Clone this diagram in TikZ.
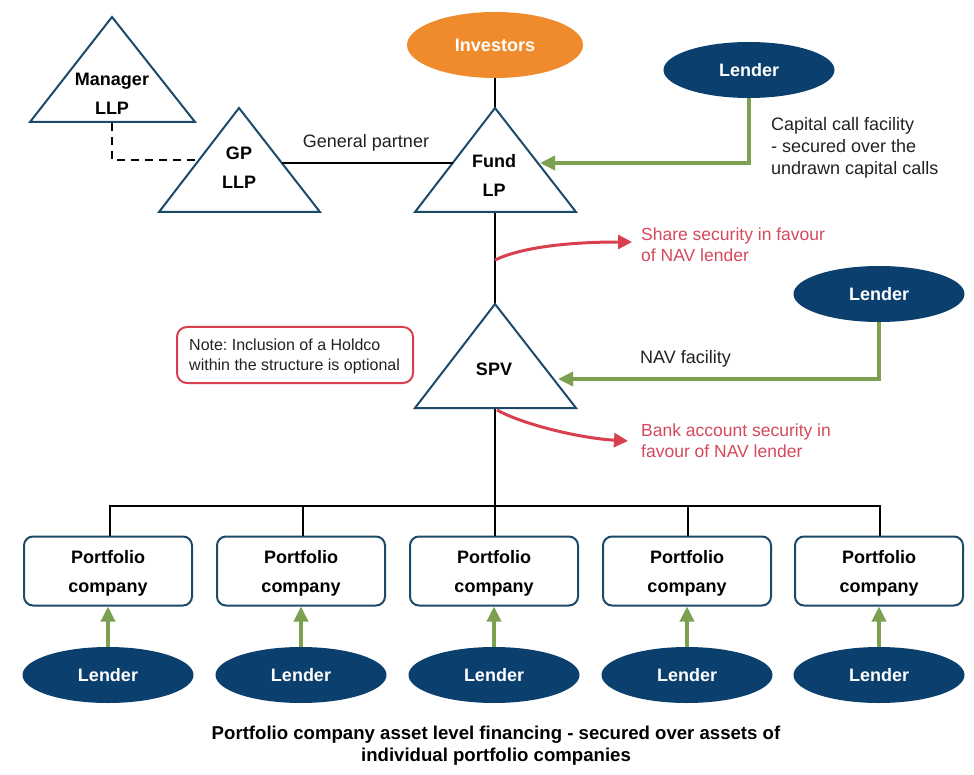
\documentclass[tikz,border=0pt]{standalone}
\usepackage{fontspec}
\setmainfont{Liberation Sans}
\usetikzlibrary{arrows.meta,shapes.geometric}
\definecolor{navy}{HTML}{0B3F6E}
\definecolor{triedge}{HTML}{1E4A6A}
\definecolor{orng}{HTML}{F08B2D}
\definecolor{grn}{HTML}{7BA150}
\definecolor{redc}{HTML}{D9404F}
\definecolor{redt}{HTML}{D44A5C}
\definecolor{txt}{HTML}{222222}
\frenchspacing
\begin{document}
\begin{tikzpicture}[x=1pt,y=-1pt,
  tri/.style={draw=triedge,line width=2pt,line join=miter,fill=white},
  trilab/.style={font=\bfseries\fontsize{18}{29}\selectfont,align=center,inner sep=0},
  lender/.style={ellipse,fill=navy,text=white,font=\bfseries\fontsize{18}{22}\selectfont,minimum width=171pt,minimum height=56pt,inner sep=0},
  pbox/.style={draw=triedge,line width=2pt,rounded corners=9pt,minimum width=168pt,minimum height=69pt,align=center,font=\bfseries\fontsize{18}{29}\selectfont,inner sep=0,text depth=0pt},
  plain/.style={font=\fontsize{18}{22}\selectfont,text=txt,align=left,inner sep=0},
  redlab/.style={font=\fontsize{17.5}{21}\selectfont,text=redt,align=left,inner sep=0},
  link/.style={draw=black,line width=2.1pt},
  grarrow/.style={draw=grn,line width=3.4pt,-{Triangle[length=15pt,width=14pt]}},
  redarrow/.style={draw=redc,line width=3pt,-{Triangle[length=14pt,width=14pt]}},
]
\useasboundingbox (0,0) rectangle (974,775);
\fill[white] (0,0) rectangle (974,775);

% ---- investors
\node[ellipse,fill=orng,text=white,font=\bfseries\fontsize{18}{22}\selectfont,minimum width=176pt,minimum height=66pt,inner sep=0] (inv) at (495,45) {Investors};

% ---- triangles (vertices as coordinates)
\coordinate (manA) at (112,17); \coordinate (manL) at (30,122); \coordinate (manR) at (195,122);
\coordinate (gpA) at (239,108); \coordinate (gpL) at (159,212); \coordinate (gpR) at (320,212);
\coordinate (fundA) at (495,108); \coordinate (fundL) at (415,212); \coordinate (fundR) at (576,212);
\coordinate (spvA) at (495,304); \coordinate (spvL) at (415,408); \coordinate (spvR) at (576,408);

% connectors behind triangles
\coordinate (fundB) at (495,212);
\coordinate (spvB) at (495,408);
\coordinate (bus) at (495,506);
\draw[link] (inv.south) -- (fundA);
\draw[link] (fundB) -- (spvA);
\draw[link] (spvB) -- (bus);

\draw[tri] (manA) -- (manL) -- (manR) -- cycle;
\draw[tri] (gpA) -- (gpL) -- (gpR) -- cycle;
\draw[tri] (fundA) -- (fundL) -- (fundR) -- cycle;
\draw[tri] (spvA) -- (spvL) -- (spvR) -- cycle;

\node[trilab] (man) at (112,94) {Manager\\LLP};
\node[trilab] (gp) at (239,168) {GP\\LLP};
\node[trilab] (fund) at (494,175) {Fund\\LP};
\node[trilab] (spv) at (494,369) {SPV};

% GP - Fund
\coordinate (gpE) at (282,163);
\coordinate (fundW) at (453,163);
\draw[link] (gpE) -- (fundW);
\node[plain] (gplab) at (366,143) {General partner};

% dashed Manager - GP
\coordinate (manB) at (112,123);
\coordinate (gpW) at (199,160);
\draw[black,line width=2.1pt,dash pattern=on 8pt off 6pt] (manB) -- (112,160) -- (gpW);

% ---- capital call lender
\node[lender] (lend1) at (749,70) {Lender};
\coordinate (fundE) at (540,163);
\draw[grarrow] (lend1.south) -- (749,163) -- (fundE);
\node[plain,anchor=north west] (cclab) at (771,117) {Capital call facility\\- secured over the\\undrawn capital calls};

% ---- share security
\coordinate (s1) at (495,260);
\coordinate (a1) at (632,242);
\draw[redarrow] (s1) .. controls (520,248) and (565,242) .. (a1);
\node[redlab,anchor=north west] (sharelab) at (641,228) {Share security in favour\\of NAV lender};

% ---- NAV lender
\node[lender] (lend2) at (879,294) {Lender};
\coordinate (spvE) at (558,379);
\draw[grarrow] (lend2.south) -- (879,379) -- (spvE);
\node[plain,anchor=west] (navlab) at (640,359) {NAV facility};

% ---- note
\node[draw=redc,line width=2pt,rounded corners=10pt,minimum width=236pt,minimum height=56pt,inner sep=0] (notebox) at (295,355) {};
\node[font=\fontsize{16}{20}\selectfont,text=txt,align=left,anchor=west,inner sep=0] (note) at (189,356) {Note: Inclusion of a Holdco\\within the structure is optional};

% ---- bank account security
\coordinate (s2) at (497,410);
\coordinate (a2) at (628,441);
\draw[redarrow] (s2) .. controls (522,424) and (578,438) .. (a2);
\node[redlab,anchor=north west] (banklab) at (641,424) {Bank account security in\\favour of NAV lender};

% ---- portfolio companies
\foreach \i/\x in {1/108,2/301,3/494,4/687,5/879}{
  \node[pbox] (pc\i) at (\x,571) {Portfolio\\company};
  \node[lender] (pl\i) at (\x,675) {Lender};
  \draw[grarrow] (pl\i.north) -- (pc\i.south);
}
\coordinate (busL) at (110,506);
\coordinate (busR) at (880,506);
\draw[link] (busL) -- (busR);
\foreach \i/\x in {1/110,2/303,3/495,4/688,5/880}{
  \draw[link] (\x,505) -- (pc\i.north -| \x,0);
}

% ---- caption
\node[font=\bfseries\fontsize{18.6}{22}\selectfont,align=center,text=black,inner sep=0] (cap) at (496,746) {Portfolio company asset level financing - secured over assets of\\individual portfolio companies};
\end{tikzpicture}
\end{document}
